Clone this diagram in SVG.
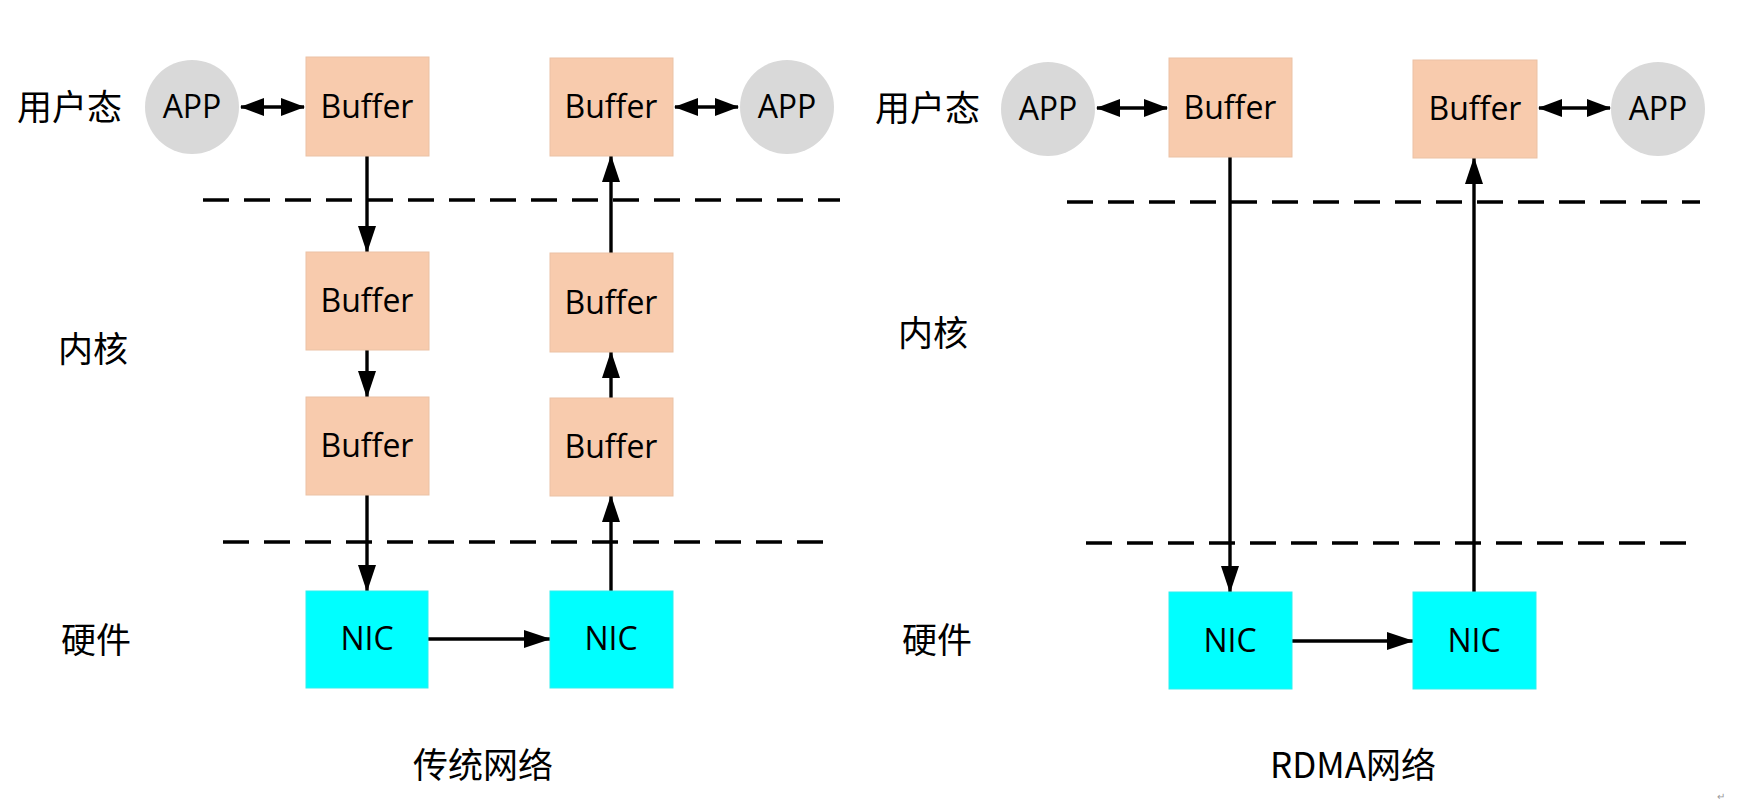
<svg xmlns="http://www.w3.org/2000/svg" width="1739" height="810" viewBox="0 0 1739 810">
<defs>
<style>
.buf{fill:#F8CBAD;stroke:#EBC2A5;stroke-width:1}
.nic{fill:#00FFFF;stroke:#2EEFEF;stroke-width:1}
.app{fill:#D9D9D9}
.t{font-family:"Open Sans","Liberation Sans",sans-serif;font-size:32px;fill:#000;text-anchor:middle}
.zh{font-family:"Noto Sans CJK SC","Noto Sans",sans-serif;font-size:35px;fill:#000}
.ln{stroke:#000;stroke-width:3.4;fill:none}
.dash{stroke:#000;stroke-width:3.5;stroke-dasharray:26 15;fill:none}
</style>
<marker id="ah" markerUnits="userSpaceOnUse" markerWidth="27" markerHeight="18" refX="26" refY="9" orient="auto">
<path d="M0,0 L27,9 L0,18 z" fill="#000"/>
</marker>
<marker id="ahs" markerUnits="userSpaceOnUse" markerWidth="24" markerHeight="18" refX="23" refY="9" orient="auto-start-reverse">
<path d="M0,0 L24,9 L0,18 z" fill="#000"/>
</marker>
</defs>
<rect width="1739" height="810" fill="#fff"/>

<g id="dividers">
<line class="dash" x1="203" y1="200" x2="840" y2="200"/>
<line class="dash" x1="223" y1="542" x2="823" y2="542"/>
<line class="dash" x1="1067" y1="202" x2="1700" y2="202"/>
<line class="dash" x1="1086" y1="543" x2="1686" y2="543"/>
</g>

<g id="labels">
<text class="zh" x="17" y="120">用户态</text>
<text class="zh" x="58" y="362">内核</text>
<text class="zh" x="61" y="653">硬件</text>
<text class="zh" x="875" y="121">用户态</text>
<text class="zh" x="898" y="346">内核</text>
<text class="zh" x="902" y="653">硬件</text>
<text class="zh" x="483" y="778" text-anchor="middle">传统网络</text>
<text class="zh" x="1353" y="778" text-anchor="middle">RDMA网络</text>
<text x="1721" y="800" font-family="Liberation Sans,sans-serif" font-size="10" fill="#999" text-anchor="middle">↵</text>
</g>

<g id="connectors">
<line class="ln" x1="241" y1="107" x2="304" y2="107" marker-start="url(#ahs)" marker-end="url(#ahs)"/>
<line class="ln" x1="675" y1="107" x2="738" y2="107" marker-start="url(#ahs)" marker-end="url(#ahs)"/>
<line class="ln" x1="367" y1="156" x2="367" y2="252" marker-end="url(#ah)"/>
<line class="ln" x1="367" y1="350" x2="367" y2="397" marker-end="url(#ah)"/>
<line class="ln" x1="367" y1="495" x2="367" y2="591" marker-end="url(#ah)"/>
<line class="ln" x1="428" y1="639" x2="550" y2="639" marker-end="url(#ah)"/>
<line class="ln" x1="611" y1="591" x2="611" y2="496" marker-end="url(#ah)"/>
<line class="ln" x1="611" y1="398" x2="611" y2="352" marker-end="url(#ah)"/>
<line class="ln" x1="611" y1="253" x2="611" y2="156" marker-end="url(#ah)"/>

<line class="ln" x1="1097" y1="108" x2="1167" y2="108" marker-start="url(#ahs)" marker-end="url(#ahs)"/>
<line class="ln" x1="1539" y1="108" x2="1610" y2="108" marker-start="url(#ahs)" marker-end="url(#ahs)"/>
<line class="ln" x1="1230" y1="157" x2="1230" y2="592" marker-end="url(#ah)"/>
<line class="ln" x1="1292" y1="641" x2="1413" y2="641" marker-end="url(#ah)"/>
<line class="ln" x1="1474" y1="592" x2="1474" y2="158" marker-end="url(#ah)"/>
</g>

<g id="trad-app-left"><circle class="app" cx="192" cy="107" r="47"/><text class="t" x="192" y="118">APP</text></g>
<g id="trad-buf-l1"><rect class="buf" x="306" y="57" width="123" height="99"/><text class="t" x="367" y="118">Buffer</text></g>
<g id="trad-buf-l2"><rect class="buf" x="306" y="252" width="123" height="98"/><text class="t" x="367" y="312">Buffer</text></g>
<g id="trad-buf-l3"><rect class="buf" x="306" y="397" width="123" height="98"/><text class="t" x="367" y="457">Buffer</text></g>
<g id="trad-nic-l"><rect class="nic" x="306" y="591" width="122" height="97"/><text class="t" x="367" y="650">NIC</text></g>
<g id="trad-buf-r1"><rect class="buf" x="550" y="58" width="123" height="98"/><text class="t" x="611" y="118">Buffer</text></g>
<g id="trad-buf-r2"><rect class="buf" x="550" y="253" width="123" height="99"/><text class="t" x="611" y="314">Buffer</text></g>
<g id="trad-buf-r3"><rect class="buf" x="550" y="398" width="123" height="98"/><text class="t" x="611" y="458">Buffer</text></g>
<g id="trad-nic-r"><rect class="nic" x="550" y="591" width="123" height="97"/><text class="t" x="611" y="650">NIC</text></g>
<g id="trad-app-right"><circle class="app" cx="787" cy="107" r="47"/><text class="t" x="787" y="118">APP</text></g>

<g id="rdma-app-left"><circle class="app" cx="1048" cy="109" r="47"/><text class="t" x="1048" y="120">APP</text></g>
<g id="rdma-buf-l"><rect class="buf" x="1169" y="58" width="123" height="99"/><text class="t" x="1230" y="119">Buffer</text></g>
<g id="rdma-nic-l"><rect class="nic" x="1169" y="592" width="123" height="97"/><text class="t" x="1230" y="652">NIC</text></g>
<g id="rdma-buf-r"><rect class="buf" x="1413" y="60" width="124" height="98"/><text class="t" x="1475" y="120">Buffer</text></g>
<g id="rdma-nic-r"><rect class="nic" x="1413" y="592" width="123" height="97"/><text class="t" x="1474" y="652">NIC</text></g>
<g id="rdma-app-right"><circle class="app" cx="1658" cy="109" r="47"/><text class="t" x="1658" y="120">APP</text></g>
</svg>
